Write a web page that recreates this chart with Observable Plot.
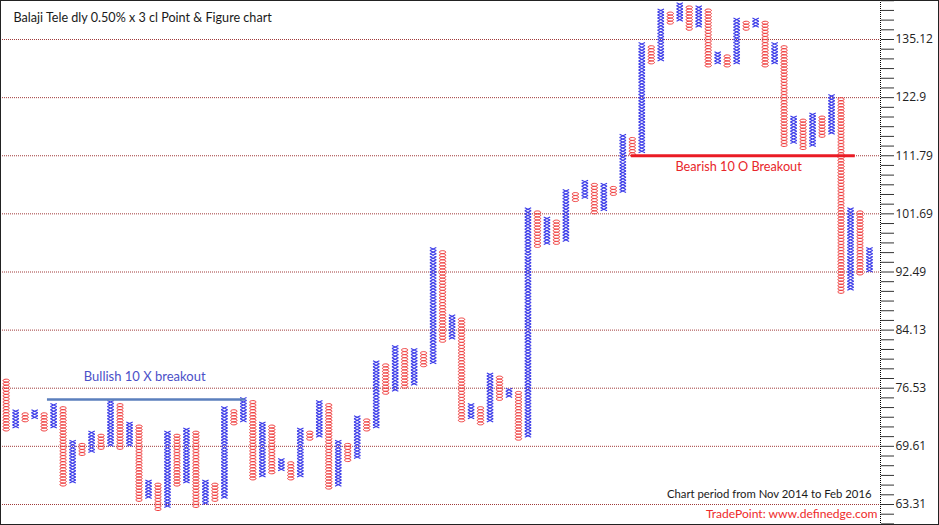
<!DOCTYPE html>
<html>
<head>
<meta charset="utf-8">
<script src="https://cdn.jsdelivr.net/npm/d3@7"></script>
<script src="https://cdn.jsdelivr.net/npm/@observablehq/plot@0.6"></script>
<style>
  body { margin: 0; background: #fff; }
  #chart svg { display: block; outline: 1px solid #222; outline-offset: -1px; }
</style>
</head>
<body>
<div id="chart"></div>
<script>
// ---- Data ----
const title = "Balaji Tele dly 0.50% x 3 cl Point & Figure chart";
const periodText = "Chart period from Nov 2014 to Feb 2016";
const sourceText = "TradePoint: www.definedge.com";
const basePrice = 63.31;      // price of box level 0 (lowest labelled line)
const boxPct = 0.005;         // 0.50% box

// column type, lowest box, highest box (box levels counted from 63.31)
const colType = [
  "O","X","O","X","O","X","O","X","O","X",
  "O","X","O","X","O","X","O","X","O","X",
  "O","X","O","X","O","X","O","X","O","X",
  "O","X","O","X","O","X","O","X","O","X",
  "O","X","O","X","O","X","O","X","O","X",
  "O","X","O","X","O","X","O","X","O","X",
  "O","X","O","X","O","X","O","X","O","X",
  "O","X","O","X","O","X","O","X","O","X",
  "O","X","O","X","O","X","O","X","O","X",
  "O","X"
];
const colLow = [
  24,25,27,28,24,25,6,7,16,17,
  18,19,18,19,1,2,-2,-1,6,7,
  -1,0,1,2,26,27,8,9,10,11,
  8,9,21,22,5,6,14,15,24,25,
  36,37,38,39,45,46,53,54,27,28,
  26,27,34,35,21,22,84,85,85,86,
  99,100,95,96,101,102,114,115,144,145,
  157,158,155,156,143,144,143,144,155,156,
  143,144,117,118,116,117,120,121,69,70,
  75,76
];
const colHigh = [
  40,30,29,30,29,32,31,20,19,23,
  22,33,32,26,25,7,6,23,22,24,
  23,7,6,31,30,34,33,26,25,14,
  13,24,23,33,32,20,19,28,27,46,
  45,51,50,50,49,83,82,61,60,32,
  31,42,41,37,36,96,95,93,92,102,
  101,105,104,104,103,120,119,150,149,161,
  160,163,162,162,161,147,146,158,157,158,
  157,150,149,126,125,127,126,133,132,96,
  95,83
];

// axis tick labels
const tickLabels = ["63.31","69.61","76.53","84.13","92.49","101.69","111.79","122.9","135.12"];

// breakout annotations (column span, box level)
const breakoutLabel = ["Bullish 10 X breakout", "Bearish 10 O Breakout"];
const breakoutFrom  = [5.35, 66.9];
const breakoutTo    = [26.2, 90.5];
const breakoutLevel = [34.3, 114];
const labelCol      = [15.6, 78.2];
const labelLevel    = [41.8, 110.2];

// ---- Derived ----
const price = (lvl) => basePrice * Math.pow(1 + boxPct, lvl);
const tickValues = tickLabels.map(Number);

const boxes = [];
colType.forEach((t, i) => {
  for (let k = colLow[i]; k <= colHigh[i]; k++) {
    boxes.push({col: i + 1, type: t, price: price(k + 0.5)});
  }
});
const boxesX = boxes.filter(d => d.type === "X");
const boxesO = boxes.filter(d => d.type === "O");

// minor ticks: 6 equal steps between labelled values
const minorTicks = [];
for (let i = -1; i < tickValues.length; i++) {
  const a = i < 0 ? tickValues[0] / (tickValues[1] / tickValues[0]) : tickValues[i];
  const b = i < 0 ? tickValues[0] : (i + 1 < tickValues.length ? tickValues[i + 1] : tickValues[i] * (tickValues[i] / tickValues[i - 1]));
  for (let j = 1; j < 6; j++) minorTicks.push(a * Math.pow(b / a, j / 6));
}

const annotations = breakoutLabel.map((label, i) => ({
  label, from: breakoutFrom[i], to: breakoutTo[i],
  level: price(breakoutLevel[i]), col: labelCol[i], lp: price(labelLevel[i])
}));

// ---- Glyphs ----
const symO = {
  draw(ctx) {
    const rx = 3.2, ry = 1.45, c = 0.5523;
    ctx.moveTo(rx, 0);
    ctx.bezierCurveTo(rx, ry * c, rx * c, ry, 0, ry);
    ctx.bezierCurveTo(-rx * c, ry, -rx, ry * c, -rx, 0);
    ctx.bezierCurveTo(-rx, -ry * c, -rx * c, -ry, 0, -ry);
    ctx.bezierCurveTo(rx * c, -ry, rx, -ry * c, rx, 0);
    ctx.closePath();
  }
};
const symX = {
  draw(ctx) {
    const w = 3.2, h = 1.53;
    ctx.moveTo(-w, -h); ctx.lineTo(w, h);
    ctx.moveTo(-w, h); ctx.lineTo(w, -h);
  }
};

const xDomain = [0.4, 93.16];
const textFont = "Lato, 'Open Sans', sans-serif";

const chart = Plot.plot({
  width: 939,
  height: 525,
  marginLeft: 0,
  marginRight: 59,
  marginTop: 0,
  marginBottom: 2,
  style: {fontFamily: textFont, fontSize: "12px", background: "#fff"},
  x: {domain: xDomain, range: [0, 880], axis: null},
  y: {type: "log", domain: [tickValues[0], tickValues[tickValues.length - 1]], range: [504, 39], axis: null},
  marks: [
    Plot.ruleY(tickValues, {stroke: "#a03a3a", strokeDasharray: "1,1", strokeWidth: 1}),
    Plot.ruleX([xDomain[1]], {stroke: "#000", strokeDasharray: "1,1"}),
    Plot.axisY(minorTicks, {anchor: "right", tickSize: 13, tickFormat: () => "", label: null, stroke: "#333"}),
    Plot.axisY(tickValues, {anchor: "right", tickSize: 13, tickPadding: 2, label: null,
      tickFormat: (d) => tickLabels[tickValues.indexOf(d)], stroke: "#333", fill: "#222",
      fontFamily: "'Open Sans', sans-serif", fontSize: 12}),
    Plot.dot(boxesO, {x: "col", y: "price", symbol: symO, r: 3, fill: "none", stroke: "#f03c3c", strokeWidth: 1}),
    Plot.dot(boxesX, {x: "col", y: "price", symbol: symX, r: 3, fill: "none", stroke: "#3a3ae8", strokeWidth: 1.1}),
    Plot.ruleY(annotations.slice(0, 1), {y: "level", x1: "from", x2: "to", stroke: "#5b7fbd", strokeWidth: 2.6}),
    Plot.ruleY(annotations.slice(1), {y: "level", x1: "from", x2: "to", stroke: "#ea1b24", strokeWidth: 2.8}),
    Plot.text(annotations.slice(0, 1), {x: "col", y: "lp", text: "label", fill: "#4b50c8", fontSize: 13, textAnchor: "middle"}),
    Plot.text(annotations.slice(1), {x: "col", y: "lp", text: "label", fill: "#e8262b", fontSize: 12.7, textAnchor: "middle"}),
    Plot.text([title], {frameAnchor: "top-left", dx: 13, dy: 17, lineAnchor: "middle", textAnchor: "start", fill: "#1a1a1a", fontSize: 12.6}),
    Plot.text([periodText], {frameAnchor: "bottom-right", dx: -9, dy: -29.5, lineAnchor: "middle", textAnchor: "end", fill: "#1a1a1a", fontSize: 11.3}),
    Plot.text([sourceText], {frameAnchor: "bottom-right", dx: -3, dy: -9.5, lineAnchor: "middle", textAnchor: "end", fill: "#ee2a2a", fontSize: 12.1})
  ]
});
document.getElementById("chart").appendChild(chart);
</script>
</body>
</html>
